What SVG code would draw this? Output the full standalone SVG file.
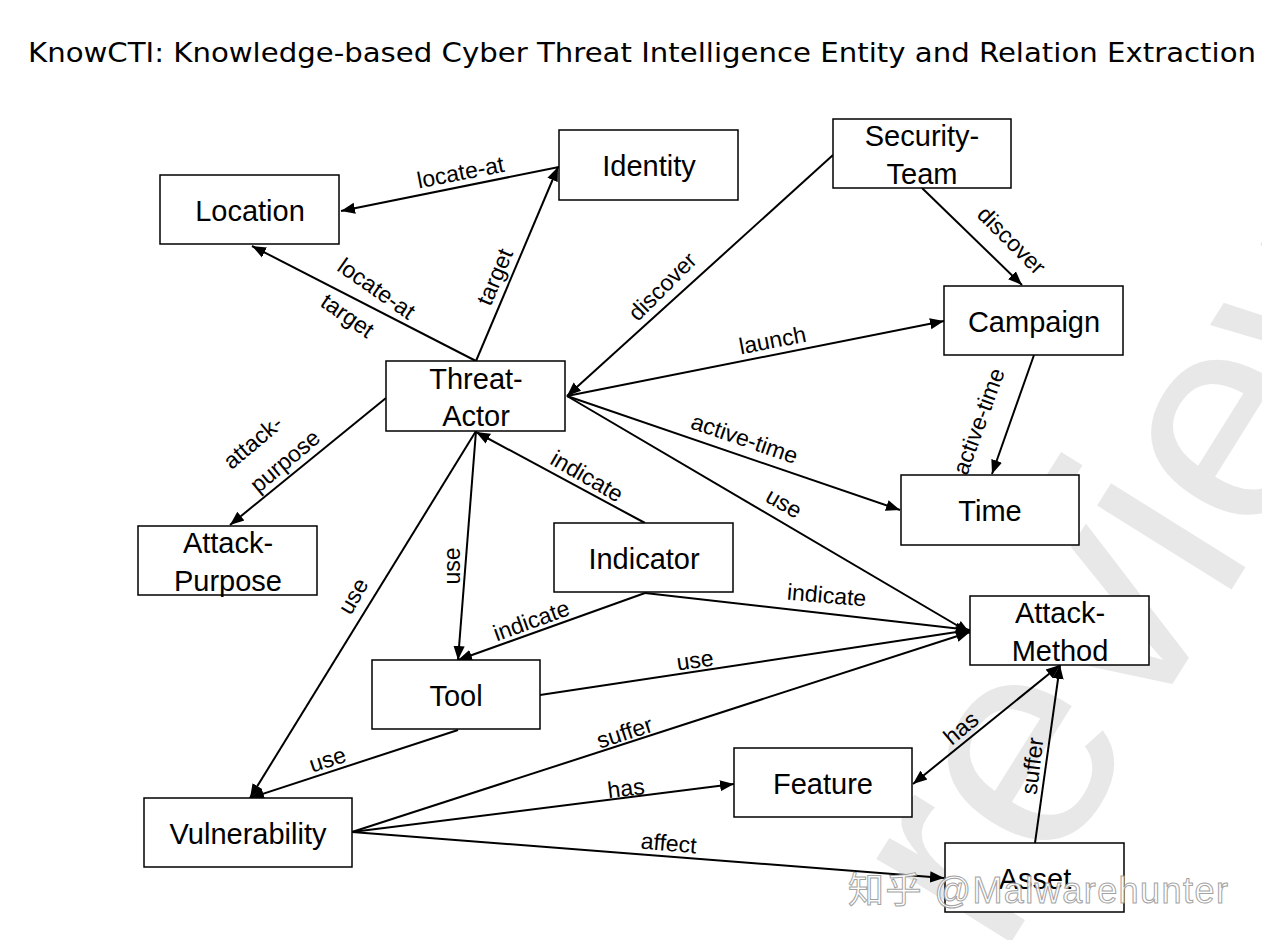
<svg xmlns="http://www.w3.org/2000/svg" width="1262" height="940" viewBox="0 0 1262 940">
<style>
.n rect{fill:#fff;stroke:#000;stroke-width:1.5}
.n text{font-family:"Liberation Sans",Arial,sans-serif;font-size:29px;text-anchor:middle;fill:#000}
.c line{stroke:#000;stroke-width:2;marker-end:url(#a)}
.l{font-family:"Liberation Sans",Arial,sans-serif;font-size:23px;text-anchor:middle;fill:#000}
</style>
<defs><marker id="a" viewBox="0 0 10 10" refX="10" refY="5" markerWidth="7" markerHeight="7" orient="auto-start-reverse"><path d="M0,1 L10,5 L0,9 z" fill="#000"/></marker></defs>
<rect width="1262" height="940" fill="#fff"/>
<text x="1000" y="960" transform="rotate(-58 1000 960)" font-family="Liberation Sans,sans-serif" font-size="300" fill="#e8e8e8">review</text>
<text x="28" y="62" font-family="DejaVu Sans,sans-serif" font-size="27" textLength="1228" lengthAdjust="spacingAndGlyphs">KnowCTI: Knowledge-based Cyber Threat Intelligence Entity and Relation Extraction</text>
<g class="c">
<line x1="559" y1="167" x2="341" y2="211"/>
<line x1="476" y1="361" x2="558" y2="167"/>
<line x1="476" y1="361" x2="252" y2="246"/>
<line x1="833" y1="155" x2="567" y2="396"/>
<line x1="922" y1="188" x2="1022" y2="285"/>
<line x1="567" y1="396" x2="944" y2="321"/>
<line x1="1034" y1="355" x2="992" y2="474"/>
<line x1="567" y1="396" x2="900" y2="510"/>
<line x1="567" y1="396" x2="970" y2="633"/>
<line x1="386" y1="398" x2="230" y2="525"/>
<line x1="645" y1="523" x2="476" y2="432"/>
<line x1="476" y1="431" x2="458" y2="660"/>
<line x1="476" y1="431" x2="250" y2="798"/>
<line x1="645" y1="593" x2="970" y2="630"/>
<line x1="645" y1="593" x2="458" y2="660"/>
<line x1="540" y1="695" x2="970" y2="630"/>
<line x1="458" y1="730" x2="250" y2="798"/>
<line x1="352" y1="832" x2="970" y2="632"/>
<line x1="352" y1="832" x2="734" y2="784"/>
<line x1="352" y1="832" x2="944" y2="878"/>
<line x1="1060" y1="665" x2="913" y2="784" marker-start="url(#a)"/>
<line x1="1035" y1="843" x2="1060" y2="665"/>
</g>
<g>
<text class="l" transform="translate(462,180) rotate(-11)">locate-at</text>
<text class="l" transform="translate(502,280) rotate(-67)">target</text>
<text class="l" transform="translate(372,295) rotate(35)">locate-at</text>
<text class="l" transform="translate(343,322) rotate(35)">target</text>
<text class="l" transform="translate(668,292) rotate(-45)">discover</text>
<text class="l" transform="translate(1006,246) rotate(45)">discover</text>
<text class="l" transform="translate(774,348) rotate(-11)">launch</text>
<text class="l" transform="translate(986,424) rotate(-70)">active-time</text>
<text class="l" transform="translate(742,446) rotate(19)">active-time</text>
<text class="l" transform="translate(780,510) rotate(30)">use</text>
<text class="l" transform="translate(258,448) rotate(-40)">attack-</text>
<text class="l" transform="translate(290,467) rotate(-40)">purpose</text>
<text class="l" transform="translate(583,483) rotate(30)">indicate</text>
<text class="l" transform="translate(460,566) rotate(-90)">use</text>
<text class="l" transform="translate(360,600) rotate(-60)">use</text>
<text class="l" transform="translate(826,603) rotate(5)">indicate</text>
<text class="l" transform="translate(534,628) rotate(-20)">indicate</text>
<text class="l" transform="translate(696,668) rotate(-8)">use</text>
<text class="l" transform="translate(330,767) rotate(-18)">use</text>
<text class="l" transform="translate(627,740) rotate(-18)">suffer</text>
<text class="l" transform="translate(627,796) rotate(-7)">has</text>
<text class="l" transform="translate(668,851) rotate(5)">affect</text>
<text class="l" transform="translate(966,734) rotate(-40)">has</text>
<text class="l" transform="translate(1040,767) rotate(-83)">suffer</text>
</g>
<g class="n" id="location"><rect x="160" y="175" width="179" height="69"/><text x="250" y="221">Location</text></g>
<g class="n" id="identity"><rect x="559" y="130" width="179" height="70"/><text x="649" y="176">Identity</text></g>
<g class="n" id="security-team"><rect x="833" y="119" width="178" height="69"/><text x="922" y="146">Security-</text><text x="922" y="184">Team</text></g>
<g class="n" id="campaign"><rect x="944" y="286" width="179" height="69"/><text x="1034" y="332">Campaign</text></g>
<g class="n" id="threat-actor"><rect x="386" y="361" width="179" height="70"/><text x="476" y="389">Threat-</text><text x="476" y="426">Actor</text></g>
<g class="n" id="time"><rect x="901" y="475" width="178" height="70"/><text x="990" y="521">Time</text></g>
<g class="n" id="attack-purpose"><rect x="138" y="526" width="179" height="69"/><text x="228" y="553">Attack-</text><text x="228" y="591">Purpose</text></g>
<g class="n" id="indicator"><rect x="554" y="523" width="179" height="69"/><text x="644" y="569">Indicator</text></g>
<g class="n" id="attack-method"><rect x="970" y="596" width="179" height="69"/><text x="1060" y="623">Attack-</text><text x="1060" y="661">Method</text></g>
<g class="n" id="tool"><rect x="372" y="660" width="168" height="69"/><text x="456" y="706">Tool</text></g>
<g class="n" id="feature"><rect x="734" y="748" width="178" height="69"/><text x="823" y="794">Feature</text></g>
<g class="n" id="vulnerability"><rect x="144" y="798" width="208" height="69"/><text x="248" y="844">Vulnerability</text></g>
<g class="n" id="asset"><rect x="945" y="843" width="179" height="69"/><text x="1035" y="889">Asset</text></g>
<text x="848" y="903" font-family="Liberation Sans,Noto Sans CJK SC,sans-serif" font-size="36" textLength="380" fill="#fff" stroke="#999" stroke-width="1" opacity="0.9">知乎 @Malwarehunter</text>
</svg>
